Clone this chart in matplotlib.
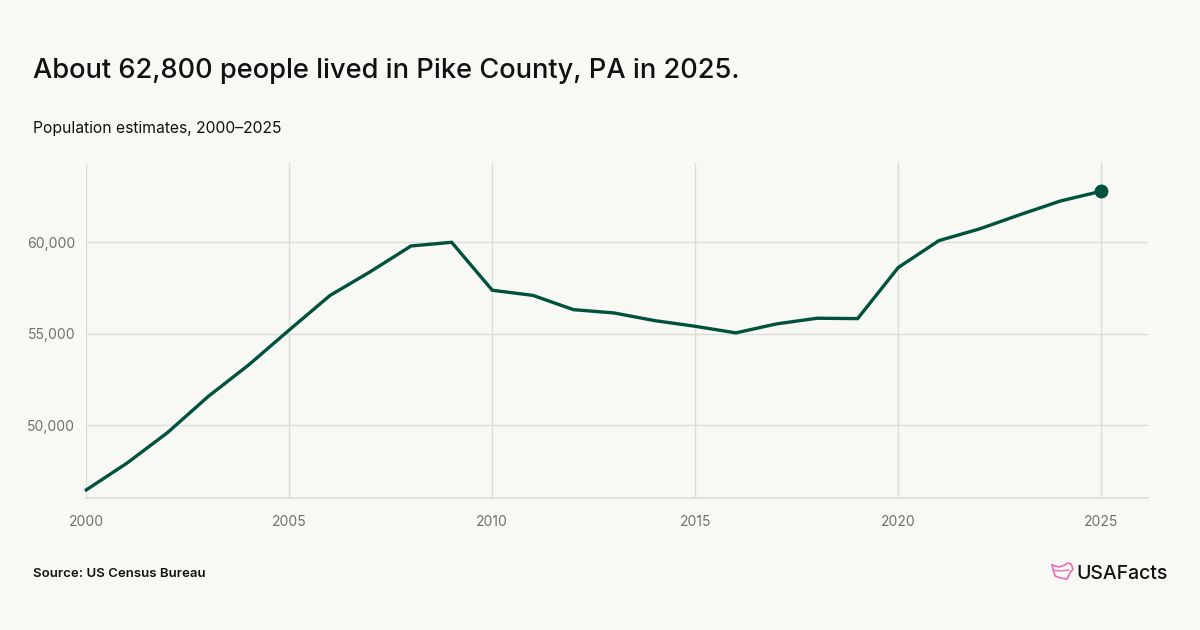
import matplotlib
matplotlib.use("Agg")
import matplotlib.pyplot as plt
from matplotlib.ticker import FuncFormatter

years = list(range(2000, 2026))
population = [46470, 47930, 49600, 51570, 53300, 55210, 57090, 58400, 59800, 60000,
              57380, 57100, 56320, 56140, 55720, 55410, 55050, 55540, 55850, 55830,
              58620, 60090, 60730, 61510, 62260, 62790]
x_ticks = [2000, 2005, 2010, 2015, 2020, 2025]
y_ticks = [50000, 55000, 60000]

title = "About 62,800 people lived in Pike County, PA in 2025."
subtitle = "Population estimates, 2000\u20132025"
source = "Source: US Census Bureau"

BG = "#f8f8f4"
LINE = "#00513d"
GRID = "#dcdcd8"
TICK = "#6f6f6f"

plt.rcParams['font.family'] = ['Inter', 'DejaVu Sans']

fig = plt.figure(figsize=(12, 6.3), dpi=100, facecolor=BG)
ax = fig.add_axes([86.3/1200, 1 - 498.3/630, (1148.3-86.3)/1200, (498.3-163.3)/630])
ax.set_facecolor(BG)

ax.plot(years, population, color=LINE, linewidth=2.4, solid_joinstyle='miter', zorder=3, clip_on=False)
ax.plot([years[-1]], [population[-1]], 'o', color=LINE, markersize=9, zorder=4, clip_on=False)

ax.set_xlim(2000, 2026.16)
ax.set_ylim(46011, 64317)
ax.set_xticks(x_ticks)
ax.set_yticks(y_ticks)
ax.yaxis.set_major_formatter(FuncFormatter(lambda v, p: f"{int(v):,}"))
ax.grid(True, color=GRID, linewidth=1)
ax.set_axisbelow(True)
for s in ['top', 'right', 'left']:
    ax.spines[s].set_visible(False)
ax.spines['bottom'].set_color(GRID)
ax.spines['bottom'].set_linewidth(1.2)
ax.tick_params(axis='both', length=0, labelsize=10, labelcolor=TICK)
ax.tick_params(axis='x', pad=12)
ax.tick_params(axis='y', pad=8)

fig.text(33/1200, 1 - 78/630, title, fontsize=19.6, fontweight='medium', color='#111111', va='baseline', ha='left')
fig.text(33/1200, 1 - 133/630, subtitle, fontsize=11.3, color='#111111', va='baseline', ha='left')
fig.text(33/1200, 1 - 577/630, source, fontsize=9.5, fontweight='semibold', color='#111111', va='baseline', ha='left')
fig.text(1168/1200, 1 - 579/630, "USAFacts", fontsize=14, fontweight='medium', color='#111111', va='baseline', ha='right')

# small pink map-like icon
icon_x = [1052, 1059, 1065, 1067, 1071, 1073, 1070, 1067, 1061, 1055, 1052]
icon_y = [565, 567, 565, 563, 564, 569, 573, 579, 578, 576, 565]
fig.lines.append(plt.Line2D([v/1200 for v in icon_x], [1 - v/630 for v in icon_y],
                            transform=fig.transFigure, color='#f06bb5', linewidth=1.2))
icon_x2 = [1053, 1060, 1069]
icon_y2 = [570, 571, 570]
fig.lines.append(plt.Line2D([v/1200 for v in icon_x2], [1 - v/630 for v in icon_y2],
                            transform=fig.transFigure, color='#f06bb5', linewidth=1.0))

fig.savefig("out.png", dpi=100, facecolor=BG)
